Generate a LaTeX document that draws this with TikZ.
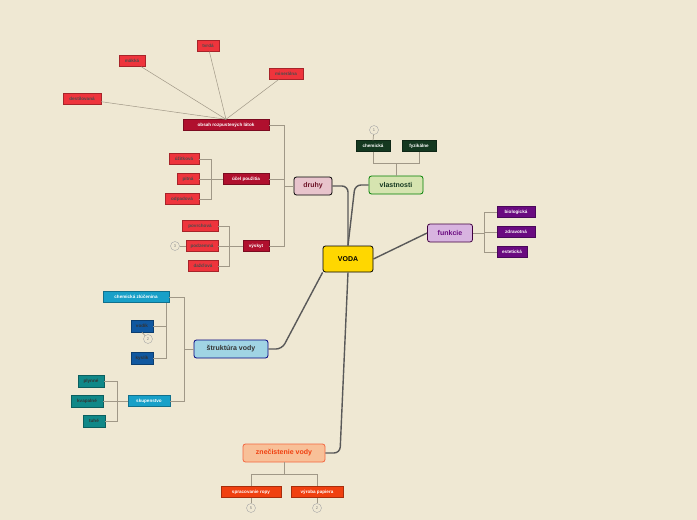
\documentclass[tikz,border=0pt]{standalone}
\usepackage{fontspec}
\setmainfont{Liberation Sans}
\begin{document}
\begin{tikzpicture}[x=1pt,y=-1pt,
  every node/.style={font=\bfseries},
  main/.style={draw=#1!50!black,rounded corners=2.5pt,line width=0.8pt,minimum height=18pt,inner sep=2pt,font=\fontsize{7}{8}\selectfont\bfseries},
  sm/.style={fill=#1,draw=#1!70!black,minimum height=11pt,inner sep=1.5pt,font=\fontsize{4.6}{5}\selectfont\bfseries},
  cnt/.style={circle,draw=gray!70,fill=none,inner sep=0pt,minimum size=9pt,font=\fontsize{4}{4}\selectfont,text=gray},
  ln/.style={draw={rgb,255:red,160;green,152;blue,135},line width=0.7pt},
  rl/.style={draw=black!65,line width=1.4pt,rounded corners=6pt}]
\fill[fill={rgb,255:red,239;green,232;blue,211}] (0,0) rectangle (697,520);
\useasboundingbox (0,0) rectangle (697,520);
\definecolor{rd}{RGB}{176,16,46}\definecolor{rl2}{RGB}{238,52,60}
\definecolor{gr}{RGB}{20,56,32}\definecolor{pu}{RGB}{106,10,128}
\definecolor{cy}{RGB}{24,160,200}\definecolor{bl}{RGB}{16,88,160}
\definecolor{tl}{RGB}{16,136,136}\definecolor{or}{RGB}{240,64,16}
% main
\node[main=black,fill={rgb,255:red,255;green,215;blue,0},minimum width=50pt,minimum height=26pt] (voda) at (348,259) {VODA};
\node[main=black,fill={rgb,255:red,232;green,196;blue,204},minimum width=38pt,text={rgb,255:red,110;green,20;blue,40}] (druhy) at (313,186) {druhy};
\node[main=green,fill={rgb,255:red,214;green,228;blue,176},minimum width=54pt,text=gr] (vl) at (396,185) {vlastnosti};
\node[main=violet,fill={rgb,255:red,216;green,180;blue,224},minimum width=45pt,text=pu] (fu) at (450,233) {funkcie};
\node[main=blue,fill={rgb,255:red,160;green,212;blue,228},minimum width=74pt,text=black!80] (st) at (231,349) {štruktúra vody};
\node[main=orange,draw=or!80,fill={rgb,255:red,248;green,192;blue,152},minimum width=82pt,text=or] (zn) at (284,453) {znečistenie vody};
% druhy
\node[sm=rd,text=white,minimum width=86pt] (ob) at (226,125) {obsah rozpustených látok};
\node[sm=rd,text=white,minimum width=46pt] (uc) at (246,179) {účel použitia};
\node[sm=rd,text=white,minimum width=26pt] (vy) at (256,246) {výskyt};
\node[sm=rl2,text=black!70,minimum width=38pt] (de) at (82,99) {destilovaná};
\node[sm=rl2,text=black!70,minimum width=26pt] (ma) at (132,61) {mäkká};
\node[sm=rl2,text=black!70,minimum width=22pt] (tv) at (208,46) {tvrdá};
\node[sm=rl2,text=black!70,minimum width=34pt] (mi) at (286,74) {minerálna};
\node[sm=rl2,text=black!70,minimum width=30pt] (uz) at (184,159) {úžitková};
\node[sm=rl2,text=black!70,minimum width=22pt] (pi) at (188,179) {pitná};
\node[sm=rl2,text=black!70,minimum width=34pt] (od) at (182,199) {odpadová};
\node[sm=rl2,text=black!70,minimum width=36pt] (po) at (200,226) {povrchová};
\node[sm=rl2,text=black!70,minimum width=32pt] (pz) at (202,246) {podzemná};
\node[sm=rl2,text=black!70,minimum width=30pt] (da) at (203,266) {dažďová};
\node[cnt] (c1) at (175,246) {3};
% vlastnosti
\node[sm=gr,text=white,minimum width=34pt] (ch) at (373,146) {chemická};
\node[sm=gr,text=white,minimum width=34pt] (fy) at (419,146) {fyzikálne};
\node[cnt] (c2) at (374,130) {1};
% funkcie
\node[sm=pu,text=white,minimum width=38pt] (bi) at (516,212) {biologická};
\node[sm=pu,text=white,minimum width=38pt] (zd) at (516,232) {zdravotná};
\node[sm=pu,text=white,minimum width=30pt] (es) at (512,252) {estetická};
% struktura
\node[sm=cy,text=white,minimum width=66pt] (cz) at (136,297) {chemická zlúčenina};
\node[sm=bl,text=black!80,minimum height=12pt,minimum width=22pt] (vo) at (142,326) {vodík};
\node[cnt] (c3) at (148,339) {2};
\node[sm=bl,text=black!80,minimum height=12pt,minimum width=22pt] (ky) at (142,358) {kyslík};
\node[sm=cy,text=white,minimum width=42pt] (sk) at (149,401) {skupenstvo};
\node[sm=tl,text=black!80,minimum height=12pt,minimum width=26pt] (pl) at (91,381) {plynné};
\node[sm=tl,text=black!80,minimum height=12pt,minimum width=32pt] (kv) at (87,401) {kvapalné};
\node[sm=tl,text=black!80,minimum height=12pt,minimum width=22pt] (tu) at (94,421) {tuhé};
% znecistenie
\node[sm=or,text=white,minimum width=60pt] (sr) at (251,492) {spracovanie ropy};
\node[sm=or,text=white,minimum width=52pt] (vp) at (317,492) {výroba papiera};
\node[cnt] (c4) at (251,508) {5};
\node[cnt] (c5) at (317,508) {2};
% root connectors
\draw[rl] (voda.north) -- (348,186) -- (druhy.east);
\draw[rl] (voda.north) -- (355,185) -- (vl.west);
\draw[rl,rounded corners=0pt] (voda.east) -- (fu.west);
\draw[rl] (voda.south west) -- (282,349) -- (st.east);
\draw[rl] (voda.south) -- (340,453) -- (zn.east);
% druhy
\draw[ln] (druhy.west) -- (284,186);
\draw[ln] (ob.east) -| (284,246) -- (vy.east);
\draw[ln] (uc.east) -- (284,179);
\foreach \n in {de,ma,tv,mi} \draw[ln,line width=0.5pt] (ob.north) -- (\n);
\draw[ln] (uc.west) -- (211,179);
\draw[ln] (uz.east) -| (211,199) -- (od.east);
\draw[ln] (pi.east) -- (211,179);
\draw[ln] (vy.west) -- (229,246);
\draw[ln] (po.east) -| (229,266) -- (da.east);
\draw[ln] (pz.east) -- (229,246);
\draw[ln] (c1) -- (pz.west);
% vlastnosti
\draw[ln] (vl.north) -- (396,163);
\draw[ln] (ch.south) |- (fy.south |- 0,163) -- (fy.south);
\draw[ln] (c2) -- (ch.north);
% funkcie
\draw[ln] (fu.east) -- (484,233);
\draw[ln] (bi.west) -| (484,252) -- (es.west);
\draw[ln] (zd.west) -- (484,232);
% struktura
\draw[ln] (st.west) -- (184,349);
\draw[ln] (cz.east) -| (184,401) -- (sk.east);
\draw[ln] (166,303) |- (ky.east);
\draw[ln] (vo.east) -- (166,326);
\draw[ln] (c3) -- (vo.south);
\draw[ln] (sk.west) -- (117,401);
\draw[ln] (pl.east) -| (117,421) -- (tu.east);
\draw[ln] (kv.east) -- (117,401);
% znecistenie
\draw[ln] (zn.south) -- (284,474);
\draw[ln] (sr.north) |- (317,474) -- (vp.north);
\draw[ln] (c4) -- (sr.south);
\draw[ln] (c5) -- (vp.south);
\end{tikzpicture}
\end{document}
